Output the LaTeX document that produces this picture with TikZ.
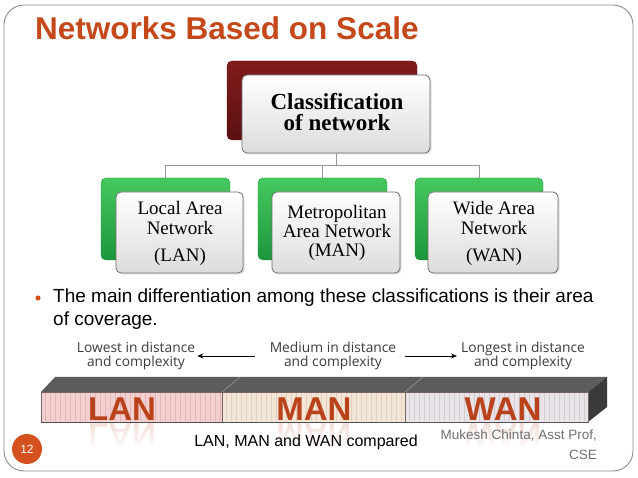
\documentclass[tikz,border=0pt]{standalone}
\usepackage{fontspec}
\setmainfont{Liberation Sans}
\newfontfamily\serifx{Liberation Serif}
\newfontfamily\labelf{Open Sans}
\usetikzlibrary{arrows.meta,shadows,fadings}
\definecolor{titlec}{RGB}{196,72,26}
\definecolor{framec}{RGB}{140,140,140}
\definecolor{boxline}{RGB}{110,110,110}
\definecolor{boxbot}{RGB}{220,220,220}
\definecolor{redtop}{RGB}{128,28,28}
\definecolor{redbot}{RGB}{92,16,16}
\definecolor{greentop}{RGB}{70,200,95}
\definecolor{greenbot}{RGB}{28,150,60}
\definecolor{connc}{RGB}{150,150,150}
\definecolor{lanc}{RGB}{243,208,208}
\definecolor{lans}{RGB}{226,182,182}
\definecolor{manc}{RGB}{244,230,214}
\definecolor{mans}{RGB}{225,208,190}
\definecolor{wanc}{RGB}{232,228,232}
\definecolor{wans}{RGB}{210,204,210}
\definecolor{topface}{RGB}{92,92,92}
\definecolor{topdiv}{RGB}{150,150,150}
\definecolor{sideface}{RGB}{58,58,58}
\definecolor{baredge}{RGB}{120,100,100}
\definecolor{barshadow}{RGB}{80,80,80}
\definecolor{bigc}{RGB}{186,66,26}
\definecolor{labc}{RGB}{60,60,60}
\definecolor{authc}{RGB}{112,112,112}
\definecolor{numc}{RGB}{212,80,30}
\begin{document}
\begin{tikzpicture}[x=1pt,y=-1pt,
  frontbox/.style={draw=boxline, line width=0.8pt, rounded corners=5pt,
    top color=white, bottom color=boxbot, inner sep=0pt,
    drop shadow={opacity=0.25, shadow xshift=1.5pt, shadow yshift=-1.5pt}},
  redback/.style={draw=redbot, rounded corners=5pt, top color=redtop, bottom color=redbot, inner sep=0pt},
  greenback/.style={draw=greenbot, rounded corners=5pt, top color=greentop, bottom color=greenbot, inner sep=0pt},
  childtext/.style={font=\serifx\fontsize{19}{20}\selectfont, align=center, anchor=base, inner sep=0pt},
  conn/.style={draw=connc, line width=0.7pt},
  barlabel/.style={font=\labelf\fontsize{13.8}{14}\selectfont, text=labc, align=center, inner sep=0pt},
  bigword/.style={font=\bfseries\fontsize{33}{33}\selectfont, text=bigc, anchor=base, inner sep=0pt},
  reflect/.style={font=\bfseries\fontsize{33}{33}\selectfont, text=bigc, anchor=base, inner sep=0pt, yscale=-1, opacity=0.16},
  arrowline/.style={draw=black, line width=0.9pt, -{Stealth[length=6pt,width=5pt]}}
]
\useasboundingbox (0,0) rectangle (638,478);
\fill[white] (0,0) rectangle (638,478);
% frame
\draw[framec, line width=0.9pt, rounded corners=20pt] (4,5) rectangle (633,471);
% title
\node[anchor=base west, inner sep=0pt, text=titlec, font=\bfseries\fontsize{31.5}{32}\selectfont] (title) at (35,40) {Networks Based on Scale};

% top box
\node[redback, minimum width=190pt, minimum height=79pt] (topb) at (322,100.5) {};
\node[frontbox, minimum width=188pt, minimum height=78pt] (topf) at (336,114) {};
\node[font=\serifx\bfseries\fontsize{23}{21.5}\selectfont, align=center, anchor=base, inner sep=0pt] (toptext) at (337,131) {Classification\\of network};

% children
\node[greenback, minimum width=129pt, minimum height=82pt] (lanb) at (165.5,219) {};
\node[greenback, minimum width=129pt, minimum height=82pt] (manb) at (322.5,219) {};
\node[greenback, minimum width=128pt, minimum height=82pt] (wanb) at (479,219) {};
\node[frontbox, minimum width=127pt, minimum height=81pt] (lanf) at (179.5,232.5) {};
\node[frontbox, minimum width=128pt, minimum height=81pt] (manf) at (336,232.5) {};
\node[frontbox, minimum width=130pt, minimum height=81pt] (wanf) at (493,232.5) {};

\node[childtext] (lant) at (180,235) {Local Area\\Network};
\node[childtext] (lanabbr) at (180,262) {(LAN)};
\node[childtext, font=\serifx\fontsize{19}{19}\selectfont] (mant) at (337,257) {Metropolitan\\Area Network\\(MAN)};
\node[childtext] (want) at (494,235) {Wide Area\\Network};
\node[childtext] (wanabbr) at (494,262) {(WAN)};

% connectors
\coordinate (bus) at (0,165);
\draw[conn] (topf.south) -- (topf.south |- bus);
\draw[conn] (lanb.north) -- (lanb.north |- bus) -- (wanb.north |- bus) -- (wanb.north);
\draw[conn] (manb.north) -- (manb.north |- bus);

% bullet
\fill[numc] (38,298) circle (2.6pt);
\node[anchor=base west, inner sep=0pt, align=left, font=\fontsize{19}{23}\selectfont] (bullet) at (53,326)
  {The main differentiation among these classifications is their area\\of coverage.};

% bar labels
\node[barlabel] (lowest) at (136,356) {Lowest in distance\\and complexity};
\node[barlabel] (medium) at (333,356) {Medium in distance\\and complexity};
\node[barlabel] (longest) at (523,356) {Longest in distance\\and complexity};
\draw[arrowline] ([xshift=-15pt]medium.west) -- ([xshift=2pt]lowest.east);
\draw[arrowline] ([xshift=9pt]medium.east) -- ([xshift=-4pt]longest.west);

% bar
\fill[topface] (41,392) -- (55,377) -- (607,377) -- (588,392) -- cycle;
\draw[topdiv, line width=0.6pt] (222,392) -- (240,377) (405,392) -- (423,377);
\fill[sideface] (588,392) -- (607,377) -- (607,407) -- (588,422) -- cycle;
\fill[lanc] (41,392) rectangle (222,422);
\fill[manc] (222,392) rectangle (405,422);
\fill[wanc] (405,392) rectangle (588,422);
\foreach \x in {45,50,...,220} \draw[lans, line width=0.5pt] (\x,393) -- (\x,421);
\foreach \x in {226,231,...,403} \draw[mans, line width=0.5pt] (\x,393) -- (\x,421);
\foreach \x in {409,414,...,586} \draw[wans, line width=0.5pt] (\x,393) -- (\x,421);
\draw[baredge, line width=0.6pt] (41,392) rectangle (588,422) (222,392) -- (222,422) (405,392) -- (405,422);
\draw[barshadow, line width=1.2pt] (41,422.5) -- (588,422.5);

% big words
\node[bigword] (lanword) at (122,421) {LAN};
\node[bigword] (manword) at (314,421) {MAN};
\node[bigword] (wanword) at (503,421) {WAN};
\node[reflect] (lanref) at (122,424) {LAN};
\node[reflect] (manref) at (314,424) {MAN};
\node[reflect] (wanref) at (503,424) {WAN};
\fill[white, path fading=north] (60,423.5) rectangle (560,450);

% footer
\node[circle, fill=numc, minimum size=30pt, inner sep=0pt, text=white, font=\fontsize{12}{12}\selectfont] (num) at (27,449) {12};
\node[anchor=base, inner sep=0pt, font=\fontsize{16}{16}\selectfont] (caption) at (306,447) {LAN, MAN and WAN compared};
\node[anchor=base east, inner sep=0pt, align=right, text=authc, font=\fontsize{13.5}{20}\selectfont] (author) at (597,460) {Mukesh Chinta, Asst Prof,\\CSE};
\end{tikzpicture}
\end{document}
